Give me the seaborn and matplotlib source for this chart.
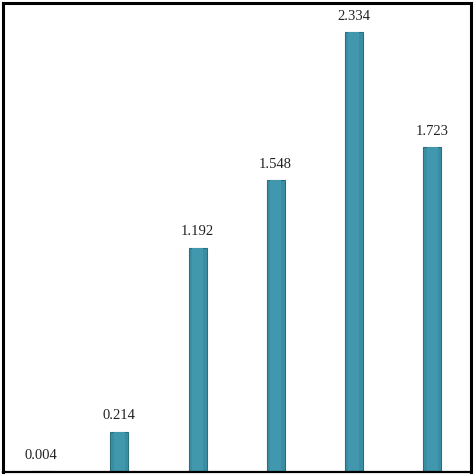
import matplotlib
matplotlib.use("Agg")
import matplotlib.pyplot as plt
import seaborn as sns
import pandas as pd

groups = ["A", "B", "C", "D", "E", "F"]
values = [0.004, 0.214, 1.192, 1.548, 2.334, 1.723]
value_labels = ["0.004", "0.214", "1.192", "1.548", "2.334", "1.723"]

df = pd.DataFrame({"group": groups, "value": values})

sns.set_style("white")
plt.rcParams["font.family"] = ["Liberation Serif", "DejaVu Serif"]

fig = plt.figure(figsize=(4.74, 4.76), dpi=100)
ax = fig.add_axes([0.006, 0.008, 0.988, 0.986])

sns.barplot(data=df, x="group", y="value", color="#3a8ea4", width=0.23,
            edgecolor="#2a6e80", linewidth=0.8, saturation=1, ax=ax)

# softer strip down the middle of each bar for the rounded look
sns.barplot(data=df, x="group", y="value", color="#4197ad", width=0.14,
            linewidth=0, saturation=1, ax=ax)

for i, (v, txt) in enumerate(zip(values, value_labels)):
    ax.annotate(txt, (i, v), xytext=(0, 7), textcoords="offset points",
                ha="center", va="bottom", fontsize=10.5, color="#222222")

ax.set_xlim(-0.49, 5.5)
ax.set_ylim(0, 2.49)
ax.set_xticks([])
ax.set_yticks([])
ax.set_xlabel("")
ax.set_ylabel("")
for side in ax.spines.values():
    side.set_visible(True)
    side.set_color("black")
    side.set_linewidth(2.2)
ax.spines["bottom"].set_linewidth(1.6)

fig.savefig("out.png", dpi=100)
plt.close(fig)
